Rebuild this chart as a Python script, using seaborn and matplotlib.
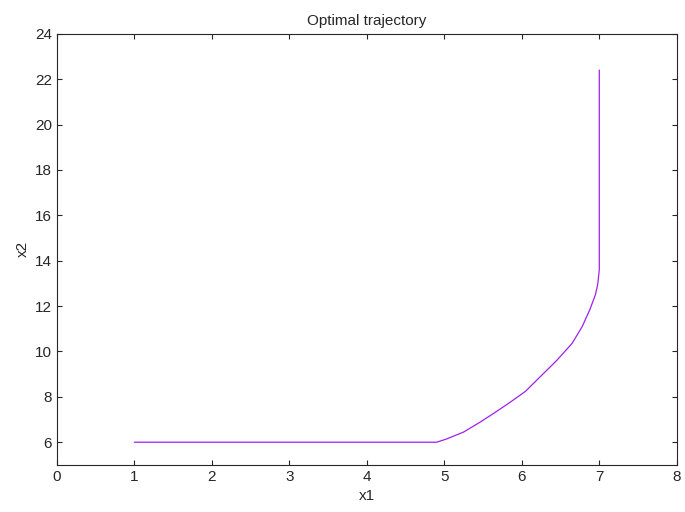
import matplotlib
matplotlib.use("Agg")
import matplotlib.pyplot as plt
import seaborn as sns
import pandas as pd

x1 = [1.0, 2.0, 3.0, 4.0, 4.9, 5.02, 5.25, 5.46, 5.65, 5.85, 6.05, 6.23, 6.45, 6.65, 6.78, 6.88, 6.95, 6.98, 7.0, 7.0, 7.0]
x2 = [6.0, 6.0, 6.0, 6.0, 6.0, 6.13, 6.45, 6.88, 7.3, 7.76, 8.25, 8.86, 9.6, 10.36, 11.1, 11.86, 12.5, 12.96, 13.6, 18.0, 22.4]

sns.set_style("ticks")
plt.rcParams['font.family'] = ['Liberation Sans', 'DejaVu Sans']
fig, ax = plt.subplots(figsize=(6.85, 5.12), dpi=100)
df = pd.DataFrame({"x1": x1, "x2": x2})
sns.lineplot(data=df, x="x1", y="x2", sort=False, estimator=None, color="#a020f0", lw=0.9, ax=ax)
ax.set_xlim(0, 8)
ax.set_ylim(5, 24)
ax.set_xticks(range(0, 9))
ax.set_yticks(range(6, 25, 2))
ax.tick_params(direction="in", top=True, right=True, labelsize=11)
ax.set_title("Optimal trajectory", fontsize=11)
ax.set_xlabel("x1", fontsize=11)
ax.set_ylabel("x2", fontsize=11)
plt.subplots_adjust(left=0.083, right=0.988, top=0.934, bottom=0.092)
fig.savefig("out.png")
